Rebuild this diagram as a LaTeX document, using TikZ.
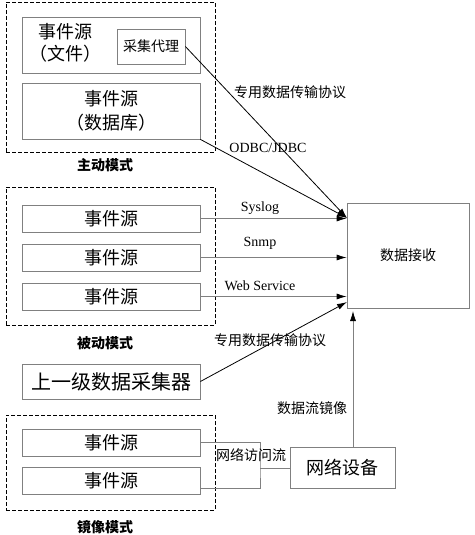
\documentclass[tikz,border=0pt]{standalone}
\usepackage{fontspec}
\setmainfont{Liberation Serif}
\newfontfamily\cjk{Noto Sans CJK SC}
\usetikzlibrary{arrows.meta,calc}
\colorlet{boxgray}{black!50}
\tikzset{
  src box/.style={draw=boxgray,line width=0.8pt,inner sep=0pt,align=center,
    minimum width=178,font=\cjk\fontsize{18}{24}\selectfont},
  mode box/.style={draw,line width=0.8pt,dash pattern=on 4pt off 2pt,minimum width=209},
  mode label/.style={font=\cjk\bfseries\fontsize{14}{16}\selectfont},
  small label/.style={font=\cjk\fontsize{14}{16}\selectfont},
  proto label/.style={font=\fontsize{14}{16}\selectfont},
  link/.style={draw=boxgray,line width=0.8pt},
  flow/.style={line width=0.8pt,-{Latex[length=10pt,width=6pt,black]}}
}
\begin{document}
\begin{tikzpicture}[x=1pt,y=-1pt]
  \useasboundingbox (0,0) rectangle (474,535);
  % active mode
  \node[mode box,minimum height=150] (active) at (110.5,77) {};
  \node[src box,minimum height=56] (file) at (111,45) {};
  \node[src box,minimum height=56] (db) at (111,111) {事件源\\（数据库）};
  \node[align=center,inner sep=0pt,font=\cjk\fontsize{18}{22}\selectfont] (filetext) at (65,43) {事件源\\（文件）};
  \node[src box,minimum width=68,minimum height=35,font=\cjk\fontsize{14}{16}\selectfont] (agent) at (151,46.5) {采集代理};
  \node[mode label] (activelabel) at (105,165) {主动模式};
  % passive mode
  \node[mode box,minimum height=138] (passive) at (110.5,256) {};
  \node[src box,minimum height=27] (src1) at (111,218.5) {事件源};
  \node[src box,minimum height=27] (src2) at (111,257.5) {事件源};
  \node[src box,minimum height=27] (src3) at (111,296.5) {事件源};
  \node[mode label] (passivelabel) at (105,343) {被动模式};
  % upper collector
  \node[src box,minimum height=35,font=\cjk\fontsize{20}{24}\selectfont] (collector) at (111,381.5) {上一级数据采集器};
  % mirror mode
  \node[mode box,minimum height=95] (mirror) at (110.5,462.5) {};
  \node[src box,minimum height=27] (mir1) at (111,442.5) {事件源};
  \node[src box,minimum height=27] (mir2) at (111,481) {事件源};
  \node[mode label] (mirrorlabel) at (105,527) {镜像模式};
  % receiver and network device
  \node[src box,minimum width=122,minimum height=105,font=\cjk\fontsize{14}{16}\selectfont] (recv) at (408,255.5) {数据接收};
  \node[src box,minimum width=105,minimum height=41] (netdev) at (342.5,467.5) {网络设备};
  \coordinate (tipA) at (347,218);
  \coordinate (tipB) at (347,302);
  \coordinate (tipV) at (353,311);
  \coordinate (merge) at (260,468);
  % connectors
  \draw[flow] (agent.east) -- (tipA);
  \draw[flow] (db.south east) -- (tipA);
  \draw[flow,draw=boxgray] (src1.east) -- (src1.east -| recv.west);
  \draw[flow,draw=boxgray] (src2.east) -- (src2.east -| recv.west);
  \draw[flow,draw=boxgray] (src3.east) -- (src3.east -| recv.west);
  \draw[flow] (collector.east) -- (tipB);
  \draw[flow,draw=boxgray] (tipV |- netdev.north) -- (tipV);
  \draw[link] (mir1.east) -| (merge) |- ($(mir2.east)+(0,7)$);
  \draw[link] (merge) -- (merge -| netdev.west);
  % labels
  \node[small label] (protoA) at (290,92) {专用数据传输协议};
  \node[proto label] (odbc) at (268,148) {ODBC/JDBC};
  \node[proto label] (syslog) at (260,208) {Syslog};
  \node[proto label] (snmp) at (260,243) {Snmp};
  \node[proto label] (websvc) at (260,286) {Web Service};
  \node[small label] (protoB) at (270,340) {专用数据传输协议};
  \node[small label] (mirrorflow) at (312,408) {数据流镜像};
  \node[small label,inner sep=0pt] (netflow) at (251,455) {网络访问流};
\end{tikzpicture}
\end{document}
